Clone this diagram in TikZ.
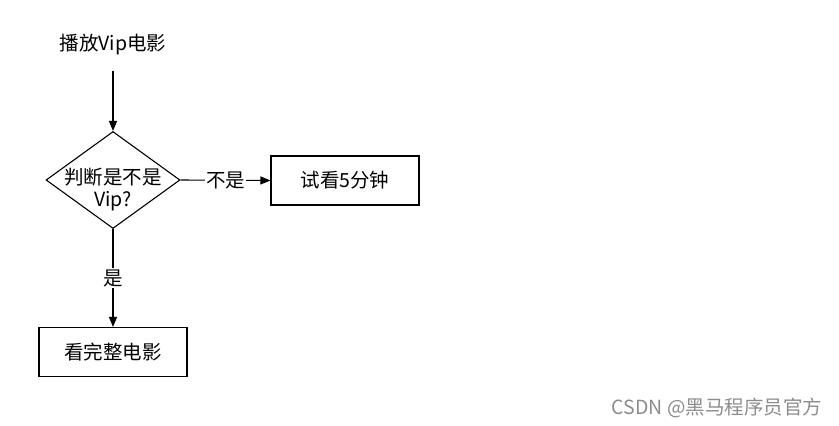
\documentclass[tikz,border=0pt]{standalone}
\usepackage{fontspec}
\setmainfont{Noto Sans CJK SC}
\usetikzlibrary{shapes,arrows,arrows.meta,positioning,calc}

\begin{document}
\begin{tikzpicture}[x=1pt, y=-1pt, line width=1.1pt,
  every node/.style={font=\fontsize{19.5}{22}\selectfont},
  procbox/.style={draw, rectangle, minimum width=148pt, minimum height=49pt, inner sep=0pt},
  decision/.style={draw, diamond, minimum width=134pt, minimum height=97pt, inner sep=0pt},
  flow/.style={-{Triangle[length=10pt,width=8pt]}},
  flowlabel/.style={fill=white, inner sep=1pt}]

\useasboundingbox (0,0) rectangle (839,426);

\node[inner sep=0pt, minimum height=50pt] (start) at (113,45) {播放Vip电影};
\node[decision] (judge) at (113,180) {};
\node[align=center, inner sep=0pt] (judgetext) at (113,190) {判断是不是\\Vip?};
\node[procbox] (trial) at (345,180.5) {试看5分钟};
\node[procbox] (full) at (113,352) {看完整电影};

\draw[flow] (start.south) -- (judge.north);
\draw[flow] (judge.east) -- node[flowlabel] {不是} (trial.west);
\draw[flow] (judge.south) -- node[flowlabel] {是} (full.north);

\node[text=black!45, font=\fontsize{19.5}{22}\selectfont] (mark) at (717,408) {CSDN @黑马程序员官方};

\end{tikzpicture}
\end{document}
